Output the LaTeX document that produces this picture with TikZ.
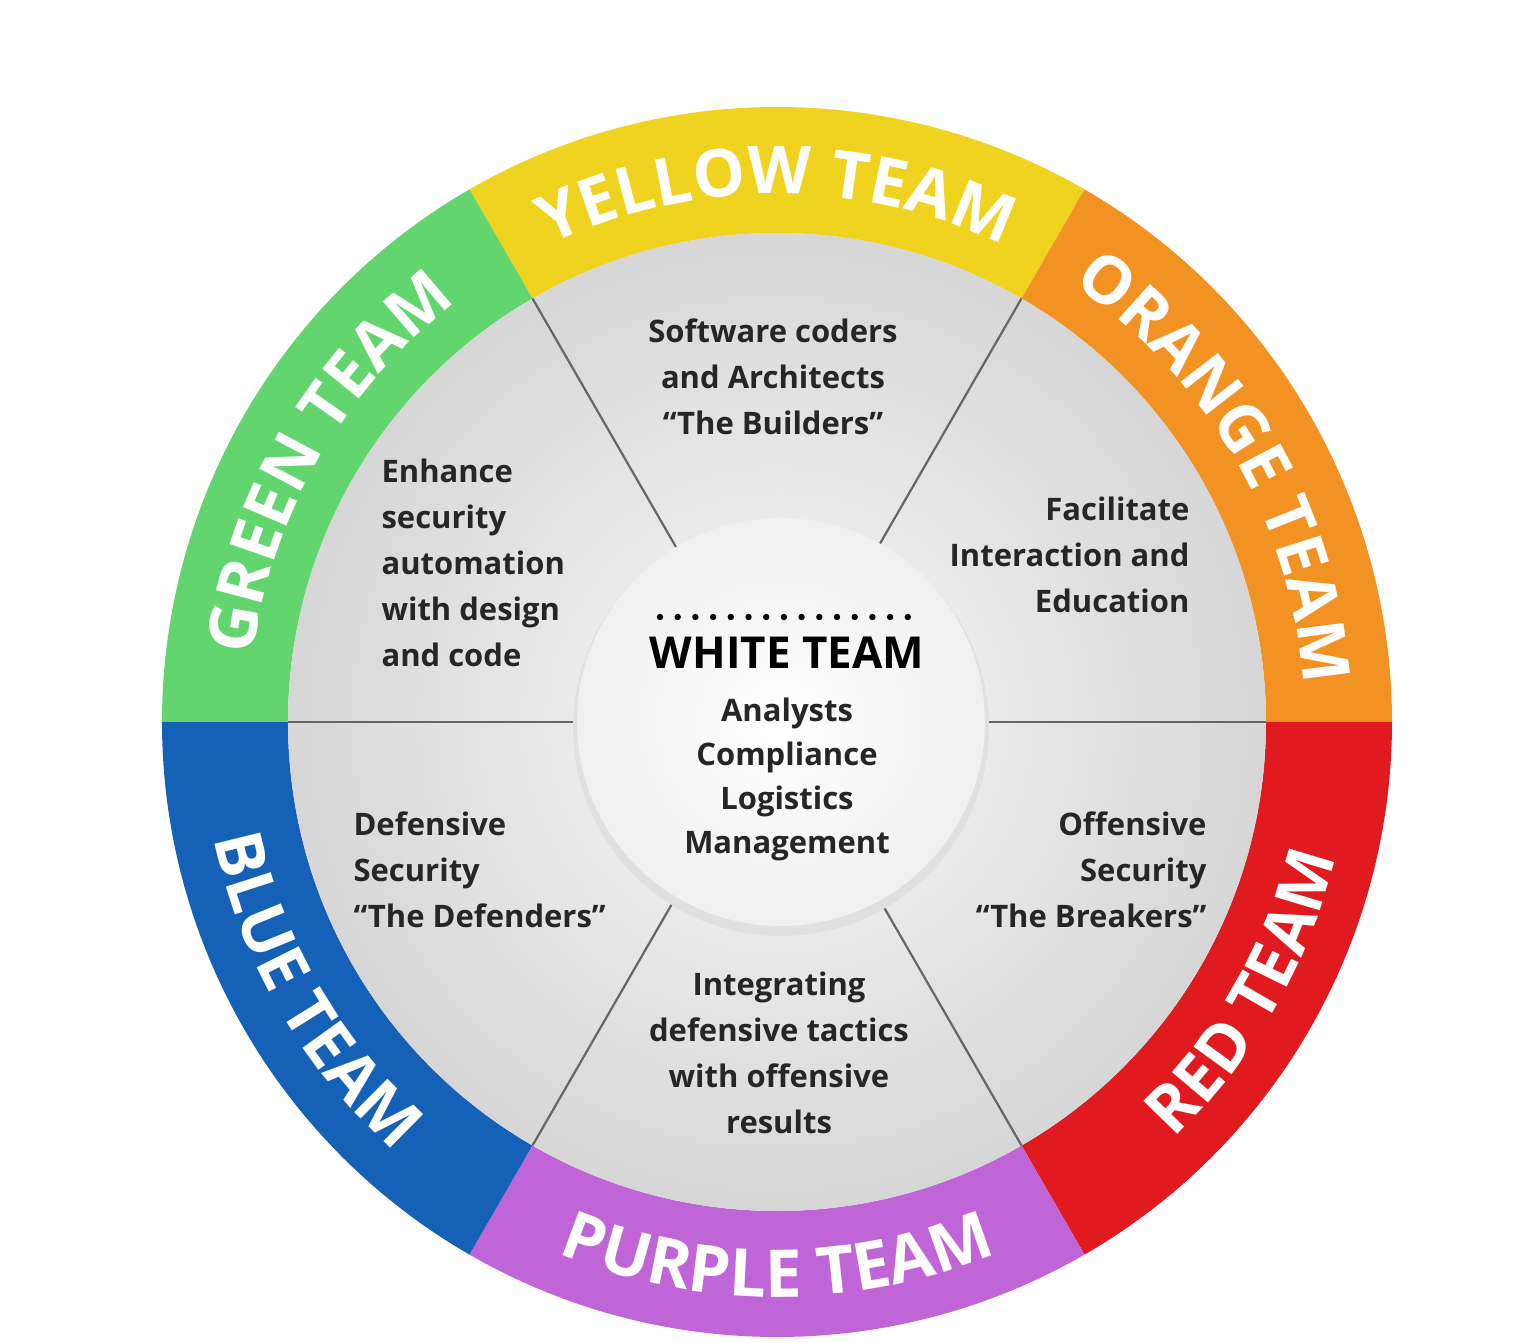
\documentclass[tikz,border=0pt]{standalone}
\usepackage{fontspec}
\setmainfont{Open Sans}
\usetikzlibrary{decorations.text}
\definecolor{cyel}{HTML}{F0D31F}
\definecolor{cora}{HTML}{F29222}
\definecolor{cred}{HTML}{E01A1F}
\definecolor{cpur}{HTML}{C065D8}
\definecolor{cblu}{HTML}{1561B8}
\definecolor{cgrn}{HTML}{63D56E}
\begin{document}
\begin{tikzpicture}[x=1pt,y=1pt,
  body/.style={font=\fontsize{31}{46}\selectfont\bfseries, text=black!85}]
\useasboundingbox (-777,-621) rectangle (759,722);
\def\Ro{615}\def\Ri{489}
\newcommand\wedgeseg[3]{\fill[#3] (#1:\Ro) arc[start angle=#1,end angle=#2,radius=\Ro] -- (#2:\Ri) arc[start angle=#2,end angle=#1,radius=\Ri] -- cycle;}
\newcommand\ringtext[4]{\path[decorate, decoration={text along path, text align=center, text color=white,
  text={|\fontsize{66}{66}\selectfont\bfseries|#4}}] (#1:#3) arc[start angle=#1,end angle=#2,radius=#3];}
\wedgeseg{60}{120}{cyel}
\wedgeseg{0}{60}{cora}
\wedgeseg{-60}{0}{cred}
\wedgeseg{-120}{-60}{cpur}
\wedgeseg{180}{240}{cblu}
\wedgeseg{120}{180}{cgrn}
\shade[inner color=gray!5, outer color=gray!32] (0,0) circle (\Ri);
\foreach \a in {0,60,120} \draw[black!60, line width=2.2pt] (\a:\Ri) -- (\a+180:\Ri);
\ringtext{118}{62}{528}{YELLOW TEAM}
\ringtext{58}{2}{528}{ORANGE TEAM}
\ringtext{178}{122}{528}{GREEN TEAM}
\ringtext{-118}{-62}{575}{PURPLE TEAM}
\ringtext{-58}{-2}{575}{RED TEAM}
\ringtext{182}{238}{575}{BLUE TEAM}
\fill[black!12] (4,-6) circle (208);
\shade[inner color=white, outer color=gray!12] (4,0) circle (204);
\node[body, align=center] (top) at (-4,345) {Software coders\\and Architects\\“The Builders”};
\node[body, align=right, anchor=east] (ru) at (416,167) {Facilitate\\Interaction and\\Education};
\node[body, align=left, anchor=west] (lu) at (-399,159) {Enhance\\security\\automation\\with design\\and code};
\node[body, align=left, anchor=west] (ll) at (-427,-148) {Defensive\\Security\\“The Defenders”};
\node[body, align=right, anchor=east] (rl) at (433,-148) {Offensive\\Security\\“The Breakers”};
\node[body, align=center] (bot) at (2,-331) {Integrating\\defensive tactics\\with offensive\\results};
\node[font=\fontsize{44}{44}\selectfont\bfseries] (wt) at (10,69) {WHITE TEAM};
\foreach \i in {0,...,14} \fill (-117+\i*17.7,105) circle (3.2);
\node[body, align=center, font=\fontsize{31}{44}\selectfont\bfseries] (wl) at (10,-57) {Analysts\\Compliance\\Logistics\\Management};
\end{tikzpicture}
\end{document}
